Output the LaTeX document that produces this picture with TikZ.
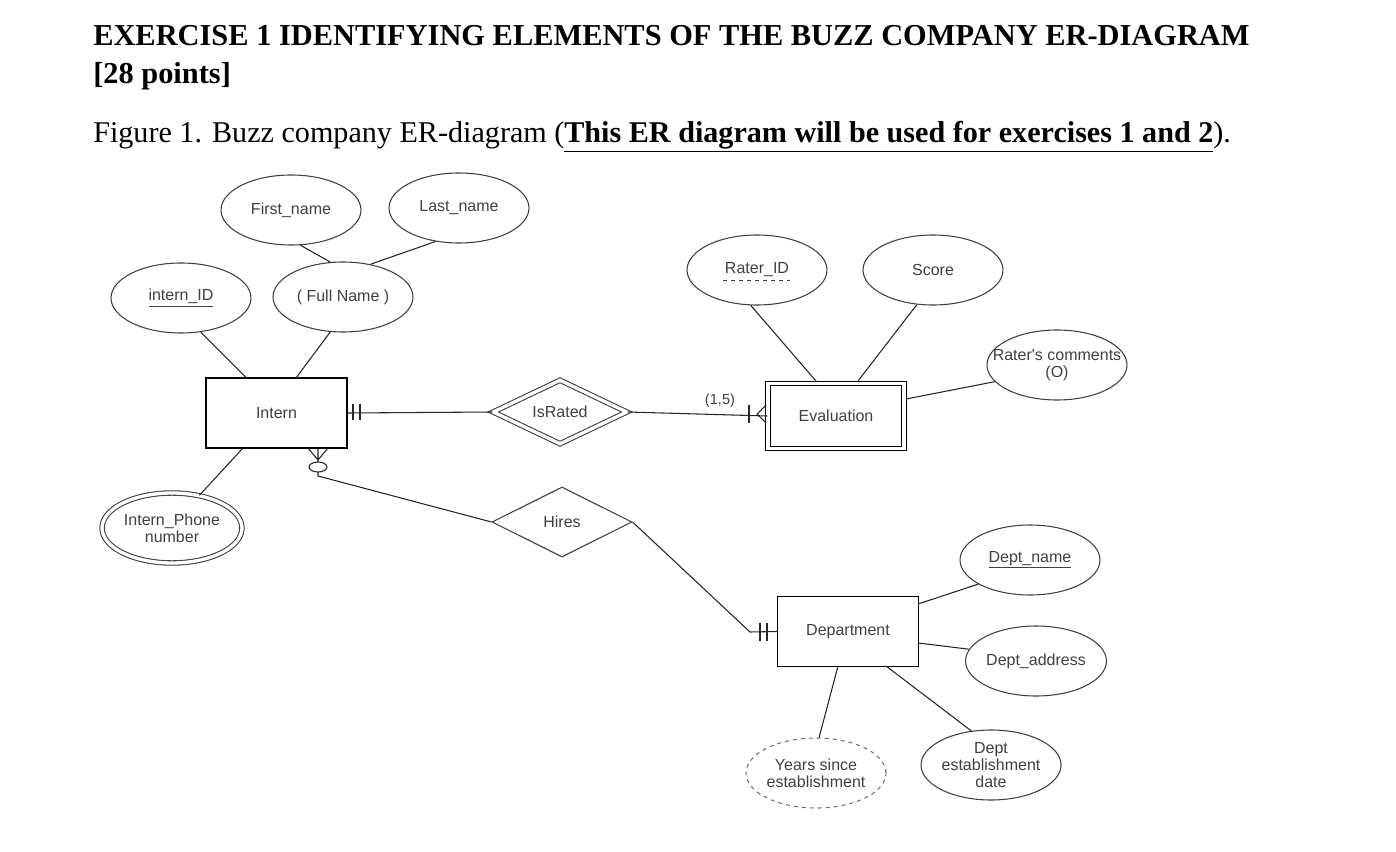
\documentclass[tikz,border=0pt]{standalone}
\usepackage{fontspec}
\setmainfont{Liberation Serif}
\newfontfamily\dsans{Liberation Sans}
\usetikzlibrary{shapes.geometric}
\begin{document}
\begin{tikzpicture}[x=0.75pt,y=-0.75pt,
  attr/.style={ellipse,draw=black!75,line width=0.8pt,minimum width=140\pxu,minimum height=70\pxu,inner sep=0pt,font=\dsans\fontsize{12}{13}\selectfont,text=black!75,align=center},
  ent/.style={rectangle,draw=black,line width=0.8pt,minimum width=141\pxu,minimum height=70\pxu,font=\dsans\fontsize{12}{13}\selectfont,text=black!75},
  rel/.style={diamond,draw=black!75,line width=0.8pt,minimum width=140\pxu,minimum height=70\pxu,aspect=2,inner sep=0pt,font=\dsans\fontsize{12}{13}\selectfont,text=black!75},
  ln/.style={draw=black!85,line width=0.8pt},
  tt/.style={anchor=base west,inner sep=0pt,font=\fontsize{22.8}{26}\selectfont}]
\def\pxu{*0.75pt}
\useasboundingbox (0,0) rectangle (1396,852);
% titles
\node[tt] (t1) at (93,46) {\bfseries EXERCISE 1 IDENTIFYING ELEMENTS OF THE BUZZ COMPANY ER-DIAGRAM};
\node[tt] (t2) at (93,84) {\bfseries [28 points]};
\node[tt,font=\fontsize{22.6}{26}\selectfont] (t3) at (93,143) {Figure 1. Buzz company ER-diagram (\textbf{\underline{This ER diagram will be used for exercises 1 and 2}}).};
% attributes
\node[attr] (fn) at (291,210) {First\_name};
\node[attr] (lnm) at (459,208) {Last\_name};
\node[attr] (iid) at (181,298) {\underline{intern\_ID}};
\node[attr] (full) at (343,297) {( Full Name )};
\node[attr,double,double distance=2.5pt] (ph) at (172,528) {Intern\_Phone\\number};
\node[attr] (rid) at (757,270) {Rater\_ID};
\draw[black!75,dashed,line width=0.6pt] (723,280) -- (790,280);
\node[attr] (sc) at (933,270) {Score};
\node[attr] (rc) at (1057,365) {};
\node[font=\dsans\fontsize{12}{13}\selectfont,text=black!75,align=center,inner sep=0pt] (rct) at (rc.center) {Rater's comments\\(O)};
\node[attr] (dn) at (1030,560) {\underline{Dept\_name}};
\node[attr] (da) at (1036,661) {Dept\_address};
\node[attr,dashed,draw=black!55] (ys) at (816,773) {Years since\\establishment};
\node[attr] (de) at (991,765) {Dept\\establishment\\date};
% entities
\node[ent] (in) at (276.5,413) {Intern};
\node[ent,double,double distance=2.5pt,minimum width=136\pxu,minimum height=65\pxu] (ev) at (836,416) {Evaluation};
\node[ent] (dp) at (848,631.5) {Department};
% relationships
\node[rel,double,double distance=2.5pt,minimum width=134\pxu,minimum height=64\pxu] (ir) at (560,412) {IsRated};
\node[rel] (hi) at (562,522) {Hires};
% attribute links
\draw[ln] (fn.-75) -- (full.110);
\draw[ln] (lnm.-125) -- (full.50);
\draw[ln] (iid.-60) -- (in.north west -| 246,0);
\draw[ln] (full.-110) -- (296,378);
\draw[ln] (243,448) -- (ph.50);
\draw[ln] (rid.-100) -- (816,381);
\draw[ln] (sc.-115) -- (858,381);
\draw[ln] (rc.-165) -- (906,399);
\draw[ln] (918,604) -- (dn.-155);
\draw[ln] (918,643) -- (da.170);
\draw[ln] (838,666) -- (ys.85);
\draw[ln] (886,666) -- (de.120);
% relationship links
\draw[ln] (in.east) -- (ir.west);
\draw[ln] (353,404) -- (353,420) (360,404) -- (360,420);
\coordinate (evl) at (ev.west);
\draw[ln] (ir.east) -- (evl);
\draw[ln] (749,405) -- (749,423);
\draw[ln] (766,405) -- (757,414) -- (766,423);
\node[font=\dsans\fontsize{11}{12}\selectfont,text=black!75] (card) at (720,401) {(1,5)};
\coordinate (ib) at (318,448);
\draw[ln] (308,448) -- (318,460) -- (328,448) (318,448) -- (318,462);
\draw[ln] (318,467) ellipse [x radius=9, y radius=5];
\draw[ln] (318,472) -- (318,476) -- (hi.west);
\coordinate (dl) at (dp.west);
\draw[ln] (hi.east) -- (750,632) -- (dl);
\draw[ln] (760,623) -- (760,641) (767,623) -- (767,641);
\end{tikzpicture}
\end{document}
